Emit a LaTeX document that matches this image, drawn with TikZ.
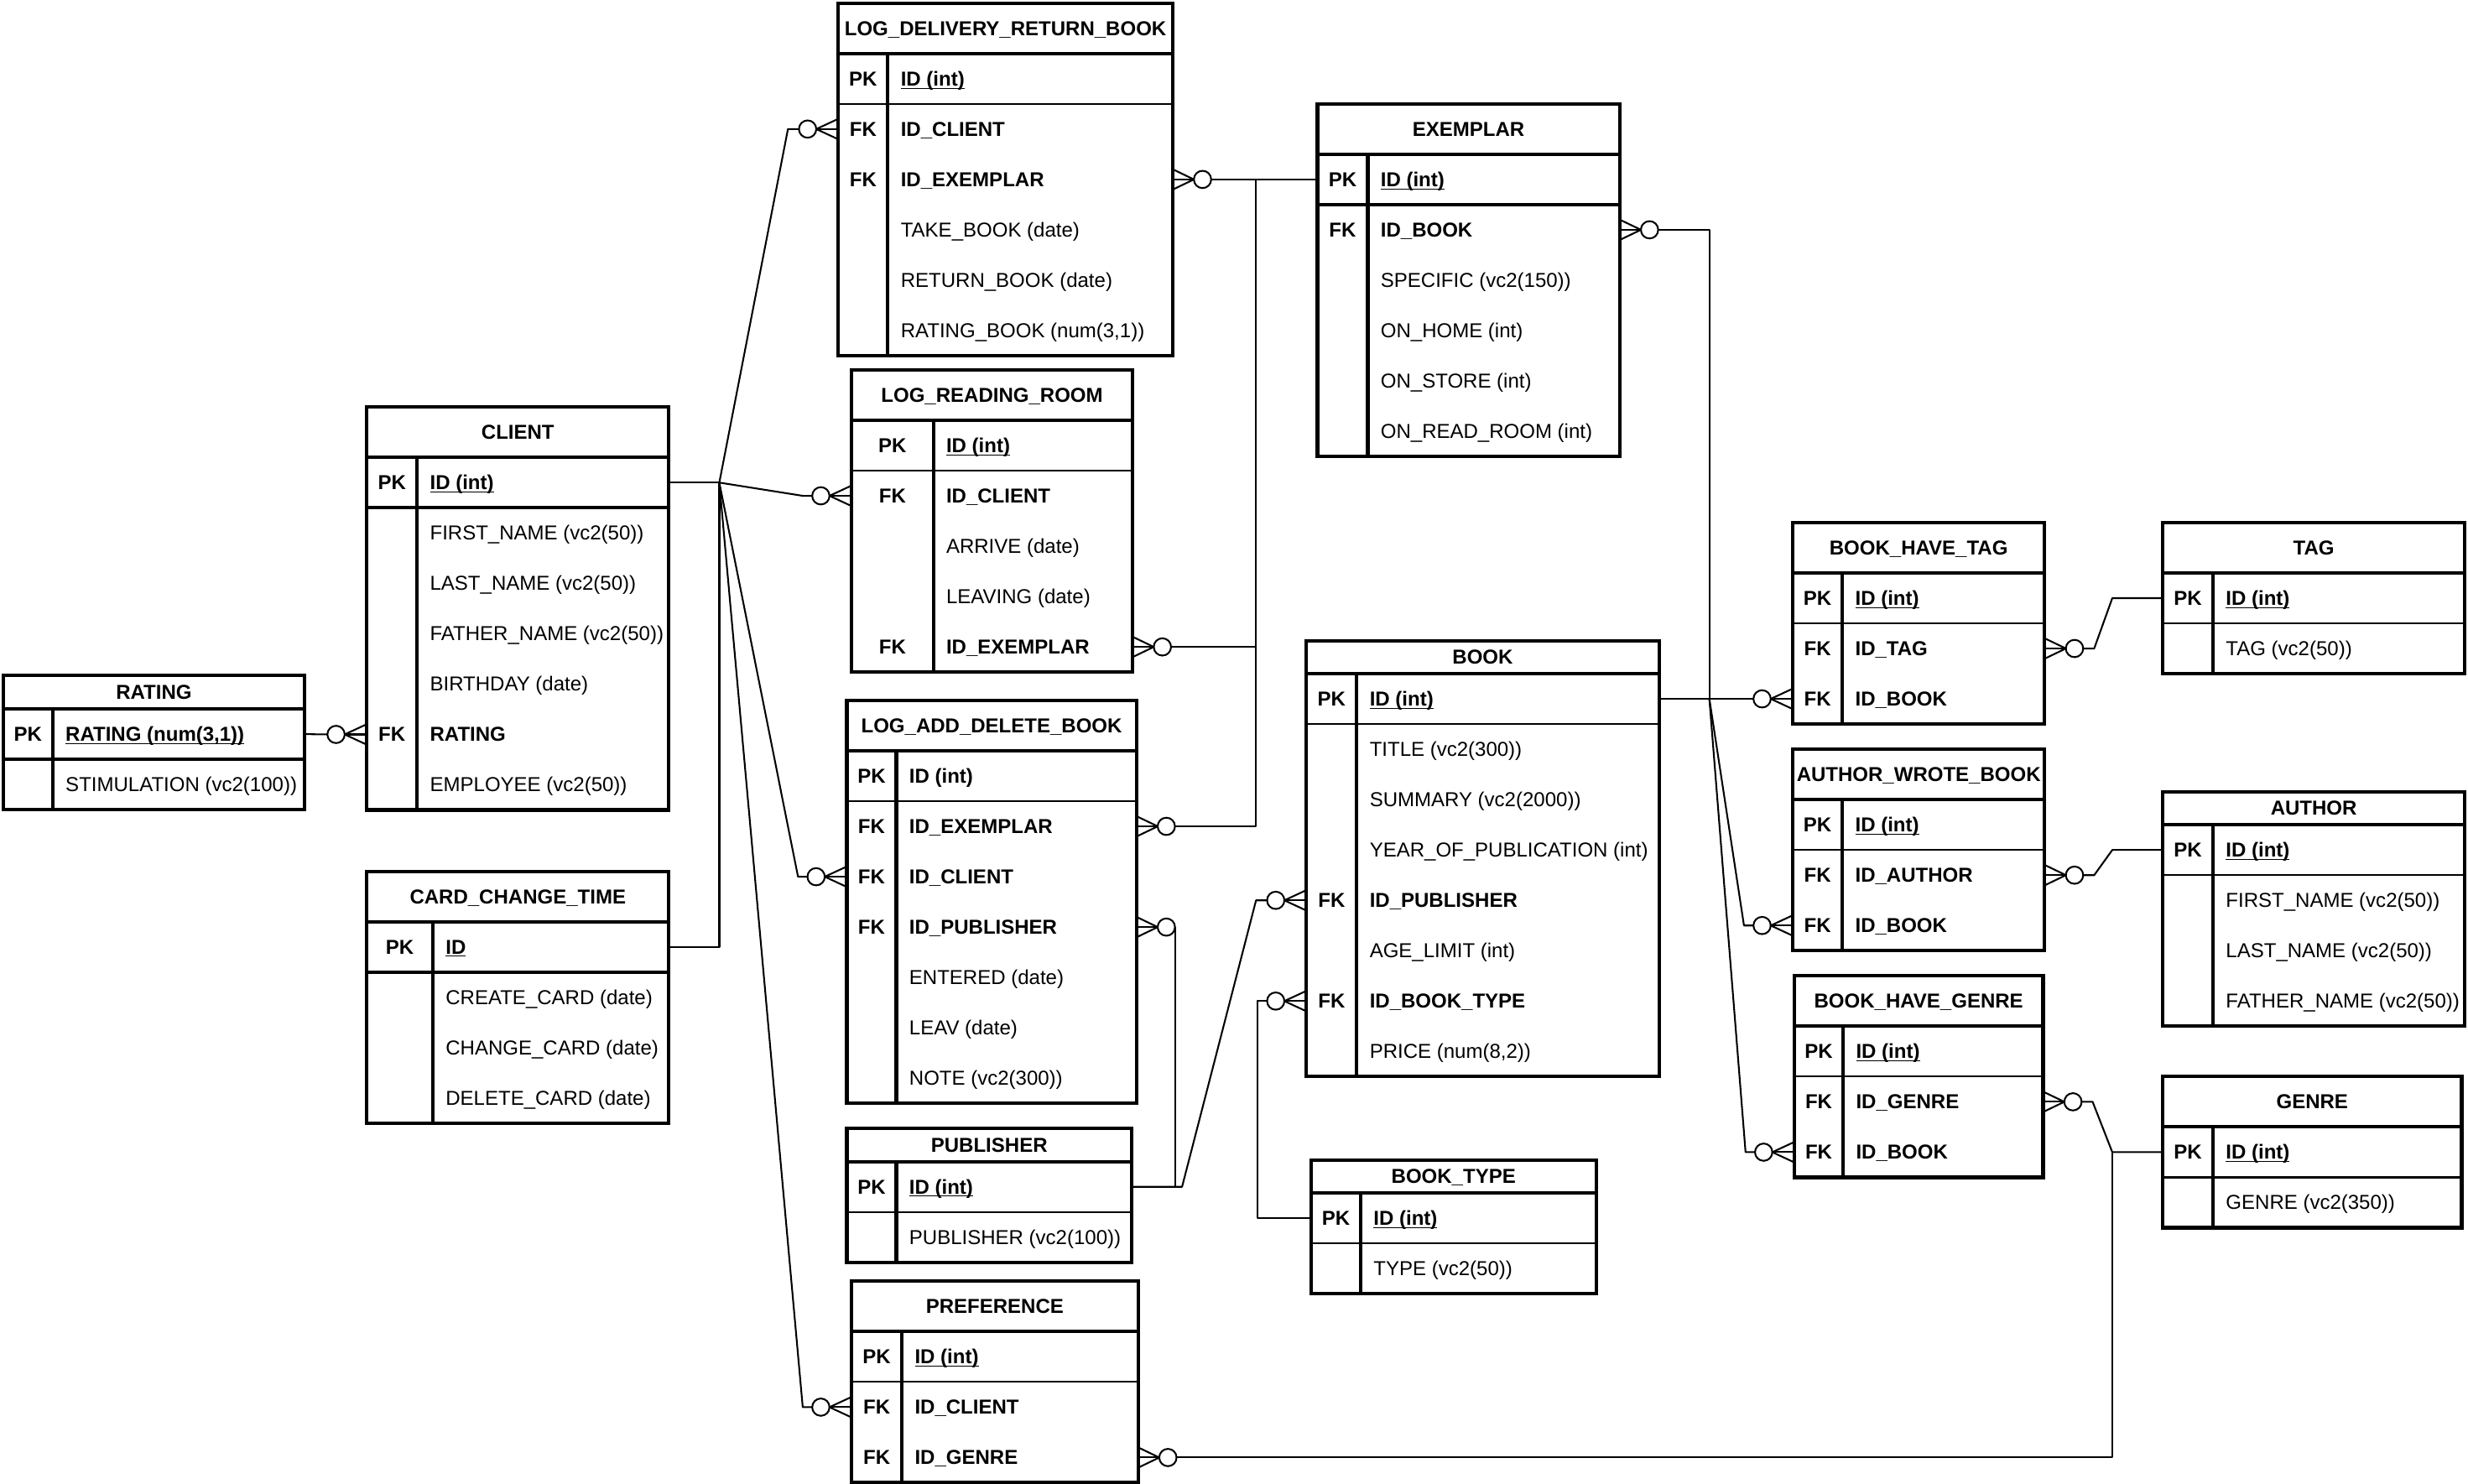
\documentclass[tikz,border=0pt]{standalone}
\usepackage{fontspec}
\setmainfont{Liberation Sans}
\usetikzlibrary{positioning}
\tikzset{
    %Define line weights
    boxline/.style={line width=2.2pt},
    sepline/.style={line width=1.1pt},
    link/.style={line width=1.1pt,line join=round},
    %Define style for table parts
    titlerow/.style={
           rectangle,
           inner sep=0pt,
           outer sep=0pt,
           text height=10.5pt,
           text depth=1.5pt,
           font=\fontsize{12.8}{15}\selectfont\bfseries},
    tablerow/.style={
           rectangle,
           inner sep=0pt,
           outer sep=0pt,
           minimum height=32pt},
    keycell/.style={
           inner sep=0pt,
           text height=10.5pt,
           text depth=1.5pt,
           font=\fontsize{12.8}{15}\selectfont\bfseries},
    fieldcell/.style={
           anchor=west,
           inner sep=0pt,
           text height=10.5pt,
           text depth=1.5pt,
           font=\fontsize{12.8}{15}\selectfont},
    %Define style for the crow's foot circle
    zeromark/.style={
           circle,
           draw,
           fill=white,
           line width=1.1pt,
           minimum size=11pt,
           inner sep=0pt,
           outer sep=0pt}
}
\newcommand{\pk}[1]{\textbf{\underline{\smash{#1}}}}
\newcommand{\fk}[1]{\textbf{#1}}
% [title height]{name}{left}{top}{width}{key width}{line under first row}{title}{rows}
\newcommand{\entity}[9][32]{
 \node[titlerow,anchor=north west,minimum width=#5pt,minimum height=#1pt](#2) at (#3,-#4){#8};
 \foreach \kf/\fd [count=\i] in {#9}{
  \node[tablerow,anchor=north west,minimum width=#5pt](#2-\i) at ([yshift=-32pt*(\i-1)]#2.south west){};
  \node[keycell](#2-\i-key) at ([xshift=#6pt/2]#2-\i.west){\kf};
  \node[fieldcell](#2-\i-name) at ([xshift=#6pt+8pt]#2-\i.west){\fd};
  \xdef\lastrow{\i}
 }
 \draw[#7] (#2-1.south west) -- (#2-1.south east);
 \draw[boxline] (#2.south west) -- (#2.south east);
 \draw[boxline] ([xshift=#6pt]#2.south west) -- ([xshift=#6pt]#2-\lastrow.south west);
 \draw[boxline] (#2.north west) rectangle (#2-\lastrow.south east);
}
% crow's foot at the left or right side of a row
\newcommand{\crowwest}[1]{
 \node[zeromark,left=14pt of #1.west](#1-zero){};
 \draw[link] (#1-zero.east) -- (#1.west);
 \draw[link] ([yshift=6.5pt]#1.west) -- ([xshift=-14pt]#1.west) -- ([yshift=-6.5pt]#1.west);
}
\newcommand{\croweast}[1]{
 \node[zeromark,right=13.5pt of #1.east](#1-zero){};
 \draw[link] (#1-zero.west) -- (#1.east);
 \draw[link] ([yshift=6.5pt]#1.east) -- ([xshift=13.5pt]#1.east) -- ([yshift=-6.5pt]#1.east);
}
\begin{document}
\begin{tikzpicture}[x=1pt,y=1pt]
\useasboundingbox (0,0) rectangle (1568,-942.3);
% left column
\entity[21.3]{rating}{2}{429.1}{191.5}{31.5}{boxline}{RATING}{
 PK/\pk{RATING (num(3{,}1))},{}/STIMULATION (vc2(100))}
\entity{client}{233}{258.6}{192}{32}{boxline}{CLIENT}{
 PK/\pk{ID (int)},{}/FIRST\_NAME (vc2(50)),{}/LAST\_NAME (vc2(50)),{}/FATHER\_NAME (vc2(50)),
 {}/BIRTHDAY (date),FK/\fk{RATING},{}/EMPLOYEE (vc2(50))}
\entity{cardtime}{233}{553.6}{192}{42}{boxline}{CARD\_CHANGE\_TIME}{
 PK/\pk{ID},{}/CREATE\_CARD (date),{}/CHANGE\_CARD (date),{}/DELETE\_CARD (date)}
% logs
\entity{logdelivery}{532.6}{2}{212.4}{31.5}{sepline}{LOG\_DELIVERY\_RETURN\_BOOK}{
 PK/\pk{ID (int)},FK/\fk{ID\_CLIENT},FK/\fk{ID\_EXEMPLAR},{}/TAKE\_BOOK (date),
 {}/RETURN\_BOOK (date),{}/RATING\_BOOK (num(3{,}1))}
\entity{logreading}{541}{235}{178.5}{52}{sepline}{LOG\_READING\_ROOM}{
 PK/\pk{ID (int)},FK/\fk{ID\_CLIENT},{}/ARRIVE (date),{}/LEAVING (date),FK/\fk{ID\_EXEMPLAR}}
\entity{logadd}{538}{445}{184}{31.5}{sepline}{LOG\_ADD\_DELETE\_BOOK}{
 PK/\fk{ID (int)},FK/\fk{ID\_EXEMPLAR},FK/\fk{ID\_CLIENT},FK/\fk{ID\_PUBLISHER},
 {}/ENTERED (date),{}/LEAV (date),{}/NOTE (vc2(300))}
\entity[21]{publisher}{538}{717}{181}{31.5}{sepline}{PUBLISHER}{
 PK/\pk{ID (int)},{}/PUBLISHER (vc2(100))}
\entity{preference}{541}{814}{182}{32}{sepline}{PREFERENCE}{
 PK/\pk{ID (int)},FK/\fk{ID\_CLIENT},FK/\fk{ID\_GENRE}}
% middle
\entity{exemplar}{837}{66}{192}{32}{boxline}{EXEMPLAR}{
 PK/\pk{ID (int)},FK/\fk{ID\_BOOK},{}/SPECIFIC (vc2(150)),{}/ON\_HOME (int),
 {}/ON\_STORE (int),{}/ON\_READ\_ROOM (int)}
\entity[21]{book}{830}{407}{224}{32}{sepline}{BOOK}{
 PK/\pk{ID (int)},{}/TITLE (vc2(300)),{}/SUMMARY (vc2(2000)),{}/YEAR\_OF\_PUBLICATION (int),
 FK/\fk{ID\_PUBLISHER},{}/AGE\_LIMIT (int),FK/\fk{ID\_BOOK\_TYPE},{}/PRICE (num(8{,}2))}
\entity[21]{booktype}{833}{737}{181}{31.5}{sepline}{BOOK\_TYPE}{
 PK/\pk{ID (int)},{}/TYPE (vc2(50))}
% link tables
\entity{bookhavetag}{1139}{332}{160}{31.5}{sepline}{BOOK\_HAVE\_TAG}{
 PK/\pk{ID (int)},FK/\fk{ID\_TAG},FK/\fk{ID\_BOOK}}
\entity{authorwrote}{1139}{476}{160}{31.5}{sepline}{AUTHOR\_WROTE\_BOOK}{
 PK/\pk{ID (int)},FK/\fk{ID\_AUTHOR},FK/\fk{ID\_BOOK}}
\entity{bookhavegenre}{1140}{620}{158}{31}{sepline}{BOOK\_HAVE\_GENRE}{
 PK/\pk{ID (int)},FK/\fk{ID\_GENRE},FK/\fk{ID\_BOOK}}
% right column
\entity{tag}{1374}{332}{192}{32}{sepline}{TAG}{
 PK/\pk{ID (int)},{}/TAG (vc2(50))}
\entity[21]{author}{1374}{503}{192}{32}{sepline}{AUTHOR}{
 PK/\pk{ID (int)},{}/FIRST\_NAME (vc2(50)),{}/LAST\_NAME (vc2(50)),{}/FATHER\_NAME (vc2(50))}
\entity{genre}{1374}{684}{190}{32}{sepline}{GENRE}{
 PK/\pk{ID (int)},{}/GENRE (vc2(350))}
% crow's feet
\crowwest{client-6}
\crowwest{logdelivery-2}
\crowwest{logreading-2}
\crowwest{logadd-3}
\crowwest{preference-2}
\crowwest{book-5}
\crowwest{book-7}
\crowwest{bookhavetag-3}
\crowwest{authorwrote-3}
\crowwest{bookhavegenre-3}
\croweast{logdelivery-3}
\croweast{logreading-5}
\croweast{logadd-2}
\croweast{logadd-4}
\croweast{preference-3}
\croweast{exemplar-2}
\croweast{bookhavetag-2}
\croweast{authorwrote-2}
\croweast{bookhavegenre-2}
% hubs
\coordinate (hubclient) at (457,-306.6);
\coordinate (hubexemplar) at (798,-114);
\coordinate (hubbook) at (1086,-444);
\coordinate (hubgenre) at (1342,-732);
% client
\draw[link] (rating-1.east) -- (client-6-zero.west);
\draw[link] (client-1.east) -- (hubclient);
\draw[link] (cardtime-1.east) -| (hubclient);
\draw[link] (hubclient) -- ([xshift=-7pt]logdelivery-2-zero.west) -- (logdelivery-2-zero.west);
\draw[link] (hubclient) -- ([xshift=-6pt]logreading-2-zero.west) -- (logreading-2-zero.west);
\draw[link] (hubclient) -- ([xshift=-6pt]logadd-3-zero.west) -- (logadd-3-zero.west);
\draw[link] (hubclient) -- ([xshift=-6pt]preference-2-zero.west) -- (preference-2-zero.west);
% exemplar
\draw[link] (exemplar-1.west) -- (hubexemplar);
\draw[link] (logdelivery-3-zero.east) -- (hubexemplar);
\draw[link] (logreading-5-zero.east) -| (hubexemplar);
\draw[link] (logadd-2-zero.east) -| (hubexemplar);
\draw[link] (exemplar-2-zero.east) -| (hubbook);
% publisher and book type
\draw[link] (logadd-4-zero.east) |- (publisher-1.east);
\draw[link] (publisher-1.east) -- ++(32,0) -- ([xshift=-7pt]book-5-zero.west) -- (book-5-zero.west);
\draw[link] (booktype-1.west) -- ++(-34,0) |- (book-7-zero.west);
% book
\draw[link] (book-1.east) -- (hubbook) -- (bookhavetag-3-zero.west);
\draw[link] (hubbook) -- ([xshift=-6pt]authorwrote-3-zero.west) -- (authorwrote-3-zero.west);
\draw[link] (hubbook) -- ([xshift=-6pt]bookhavegenre-3-zero.west) -- (bookhavegenre-3-zero.west);
% tag, author, genre
\draw[link] (bookhavetag-2-zero.east) -- ++(7,0) -- ([xshift=-32pt]tag-1.west) -- (tag-1.west);
\draw[link] (authorwrote-2-zero.east) -- ++(7,0) -- ([xshift=-32pt]author-1.west) -- (author-1.west);
\draw[link] (bookhavegenre-2-zero.east) -- ++(7,0) -- (hubgenre) -- (genre-1.west);
\draw[link] (preference-3-zero.east) -| (hubgenre);
\end{tikzpicture}
\end{document}
